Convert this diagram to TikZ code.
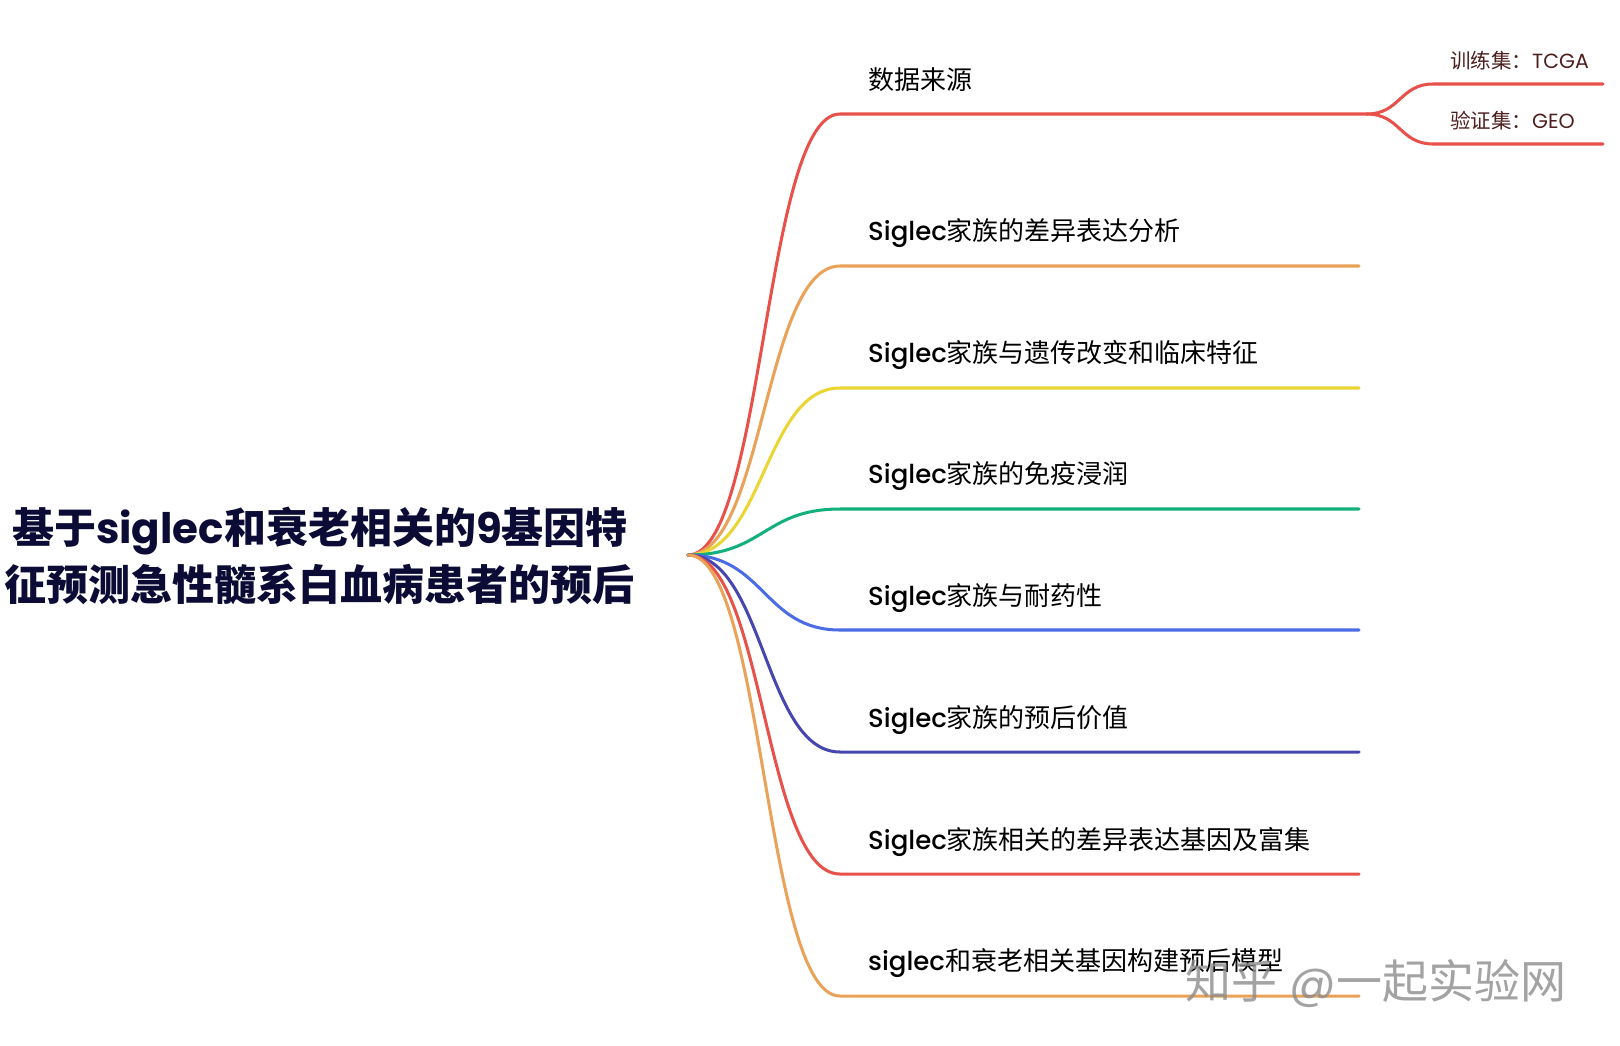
\documentclass[tikz,border=0pt]{standalone}
\usepackage{fontspec}
\setmainfont{Poppins}
\newfontfamily\cjk{Noto Sans CJK SC}
\newfontfamily\latmed{Poppins Medium}
\usetikzlibrary{calc}
\definecolor{cRed}{HTML}{E8504A}
\definecolor{cOrange}{HTML}{E9A257}
\definecolor{cYellow}{HTML}{EBD532}
\definecolor{cGreen}{HTML}{12B07C}
\definecolor{cBlue}{HTML}{4A6CE6}
\definecolor{cIndigo}{HTML}{4547AE}
\definecolor{cTitle}{HTML}{0B0B35}
\definecolor{cSub}{HTML}{4E1F1F}
\tikzset{
	topic/.style={anchor=base west, inner sep=0pt, font=\fontsize{26}{30}\selectfont\latmed},
	subtopic/.style={anchor=base west, inner sep=0pt, text=cSub, font=\fontsize{20.5}{24}\selectfont},
	branch/.style={line width=1.25mm*0.85, line cap=round},
}

\begin{document}
\begin{tikzpicture}[x=1pt,y=-1pt]
			%%%%% START %%%%%
			\useasboundingbox (0,0) rectangle (1620,1045);
			\fill[white] (0,0) rectangle (1620,1045);

			\node[align=center, inner sep=0pt, text=cTitle, font=\fontsize{42}{57}\selectfont\bfseries] (title) at (320, 556)
				{{\cjk 基于}siglec{\cjk 和衰老相关的}9{\cjk 基因特}\\{\cjk 征预测急性髓系白血病患者的预后}};

			\coordinate (root) at (688, 555);

			\coordinate (k1) at (840, 114);
			\coordinate (e1) at (1367, 114);
			\coordinate (k2) at (840, 266);
			\coordinate (e2) at (1359, 266);
			\coordinate (k3) at (840, 388);
			\coordinate (e3) at (1359, 388);
			\coordinate (k4) at (840, 509);
			\coordinate (e4) at (1359, 509);
			\coordinate (k5) at (840, 630);
			\coordinate (e5) at (1359, 630);
			\coordinate (k6) at (840, 752);
			\coordinate (e6) at (1359, 752);
			\coordinate (k7) at (840, 874);
			\coordinate (e7) at (1359, 874);
			\coordinate (k8) at (840, 996);
			\coordinate (e8) at (1359, 996);

			\draw[branch, cRed] (root) .. controls +(76,0) and +(-76,0) .. (k1) -- (e1);
			\draw[branch, cOrange] (root) .. controls +(76,0) and +(-76,0) .. (k2) -- (e2);
			\draw[branch, cYellow] (root) .. controls +(76,0) and +(-76,0) .. (k3) -- (e3);
			\draw[branch, cGreen] (root) .. controls +(76,0) and +(-76,0) .. (k4) -- (e4);
			\draw[branch, cBlue] (root) .. controls +(76,0) and +(-76,0) .. (k5) -- (e5);
			\draw[branch, cIndigo] (root) .. controls +(76,0) and +(-76,0) .. (k6) -- (e6);
			\draw[branch, cRed] (root) .. controls +(76,0) and +(-76,0) .. (k7) -- (e7);
			\draw[branch, cOrange] (root) .. controls +(76,0) and +(-76,0) .. (k8) -- (e8);

			\coordinate (k1a) at (1433, 84);
			\coordinate (e1a) at (1603, 84);
			\coordinate (k1b) at (1433, 144);
			\coordinate (e1b) at (1603, 144);
			\draw[branch, cRed] (e1) .. controls +(33,0) and +(-33,0) .. (k1a) -- (e1a);
			\draw[branch, cRed] (e1) .. controls +(33,0) and +(-33,0) .. (k1b) -- (e1b);

			\node[topic] (source) at (868, 89) {\cjk 数据来源};
			\node[topic] (diff) at (868, 240) {Siglec{\cjk 家族的差异表达分析}};
			\node[topic] (genetic) at (868, 362) {Siglec{\cjk 家族与遗传改变和临床特征}};
			\node[topic] (immune) at (868, 483) {Siglec{\cjk 家族的免疫浸润}};
			\node[topic] (resist) at (868, 605) {Siglec{\cjk 家族与耐药性}};
			\node[topic] (prog) at (868, 727) {Siglec{\cjk 家族的预后价值}};
			\node[topic] (enrich) at (868, 849) {Siglec{\cjk 家族相关的差异表达基因及富集}};
			\node[topic] (model) at (868, 970) {siglec{\cjk 和衰老相关基因构建预后模型}};

			\node[subtopic] (train) at (1450, 68) {{\cjk 训练集：}TCGA};
			\node[subtopic] (valid) at (1450, 128) {{\cjk 验证集：}GEO};

			\node[anchor=base west, inner sep=0pt, text=black!45, opacity=0.8, font=\fontsize{46}{50}\selectfont] (mark) at (1185, 998)
				{{\cjk 知乎} @{\cjk 一起实验网}};
			%%%%% END %%%%%
		\end{tikzpicture}
\end{document}
